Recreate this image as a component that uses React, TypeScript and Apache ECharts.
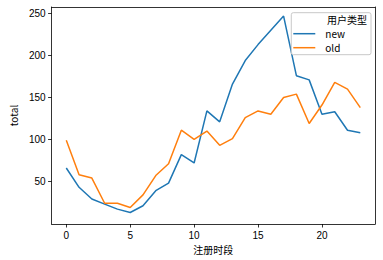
import React, { useEffect, useRef } from "react";
import * as echarts from "echarts";

const hours = [0, 1, 2, 3, 4, 5, 6, 7, 8, 9, 10, 11, 12, 13, 14, 15, 16, 17, 18, 19, 20, 21, 22, 23];
const newUsers = [66, 43, 29, 23, 17, 13, 21, 39, 48, 82, 72, 134, 121, 166, 194, 213, 230, 247, 176, 171, 130, 133, 111, 108];
const oldUsers = [99, 58, 54, 24, 24, 19, 34, 57, 71, 111, 100, 110, 93, 101, 126, 134, 130, 150, 154, 119, 141, 168, 160, 138];
const xTicks = [0, 5, 10, 15, 20];
const yTicks = [50, 100, 150, 200, 250];
const seriesNames = ["new", "old"];
const legendTitle = "用户类型";
const xName = "注册时段";
const yName = "total";

const FONT = "'Liberation Sans', 'Noto Sans CJK SC', sans-serif";
const CJK = "'Noto Sans CJK SC', sans-serif";

export default function App() {
  const ref = useRef<HTMLDivElement>(null);
  useEffect(() => {
    if (!ref.current) return;
    const chart = echarts.init(ref.current, undefined, { renderer: "svg" });
    const line = { show: true, onZero: false, lineStyle: { color: "#000", width: 0.8 } };
    const tick = { show: true, inside: false, length: 3.5, lineStyle: { color: "#000", width: 0.8 } };
    const xRange = { type: "value", min: -1.15, max: 24.15 };
    const yRange = { type: "value", min: -0.7, max: 257.8 };
    chart.setOption({
      animation: false,
      grid: { left: 41, top: 7, right: 8, bottom: 36 },
      xAxis: [
        {
          ...xRange,
          axisLine: line,
          axisTick: { ...tick, customValues: xTicks },
          axisLabel: { customValues: xTicks, color: "#000", fontSize: 10, fontFamily: FONT, margin: 6 },
          splitLine: { show: false },
          name: xName, nameLocation: "middle", nameGap: 18,
          nameTextStyle: { color: "#000", fontSize: 10, fontFamily: CJK },
        },
        {
          ...xRange, position: "top",
          axisLine: line, axisTick: { show: false }, axisLabel: { show: false }, splitLine: { show: false },
        },
      ],
      yAxis: [
        {
          ...yRange,
          axisLine: line,
          axisTick: { ...tick, customValues: yTicks },
          axisLabel: { customValues: yTicks, color: "#000", fontSize: 10, fontFamily: FONT, margin: 6 },
          splitLine: { show: false },
          name: yName, nameLocation: "middle", nameRotate: 90, nameGap: 30,
          nameTextStyle: { color: "#000", fontSize: 10, fontFamily: CJK },
        },
        {
          ...yRange, position: "right",
          axisLine: line, axisTick: { show: false }, axisLabel: { show: false }, splitLine: { show: false },
        },
      ],
      legend: {
        data: seriesNames.map((n) => ({ name: n, icon: "path://M0,0H22V1.5H0Z" })),
        orient: "vertical",
        right: 12, top: 12.7,
        itemWidth: 22, itemHeight: 10, itemGap: 4,
        padding: [16, 26, 2, 2],
        backgroundColor: "rgba(255,255,255,0.8)",
        borderColor: "#c8c8c8", borderWidth: 1, borderRadius: 2,
        textStyle: { color: "#000", fontSize: 10, fontFamily: CJK, padding: [0, 0, 0, 5] },
      },
      graphic: [
        {
          type: "text", right: 16, top: 14.5, z: 100,
          style: { text: legendTitle, fill: "#000", fontSize: 10, fontFamily: CJK },
        },
      ],
      series: [
        {
          name: seriesNames[0], type: "line", symbol: "none",
          data: hours.map((h, i) => [h, newUsers[i]]),
          lineStyle: { color: "#1f77b4", width: 1.5 }, itemStyle: { color: "#1f77b4" },
        },
        {
          name: seriesNames[1], type: "line", symbol: "none",
          data: hours.map((h, i) => [h, oldUsers[i]]),
          lineStyle: { color: "#ff7f0e", width: 1.5 }, itemStyle: { color: "#ff7f0e" },
        },
      ],
    });
    return () => chart.dispose();
  }, []);
  return <div ref={ref} style={{ width: 383, height: 260, position: "absolute", left: 0, top: 0 }} />;
}
